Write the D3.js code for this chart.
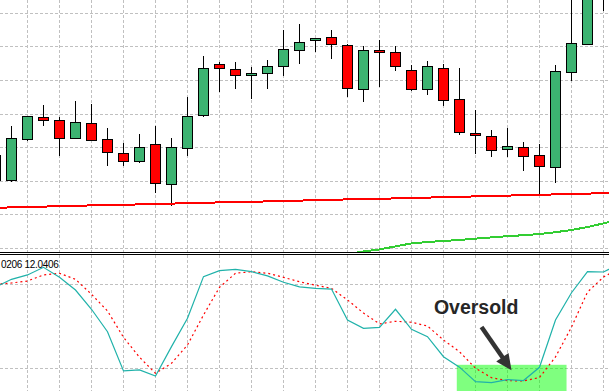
<!DOCTYPE html>
<html>
<head>
<meta charset="utf-8">
<script src="https://d3js.org/d3.v7.min.js"></script>
<style>
  html, body { margin: 0; padding: 0; background: #fff; overflow: hidden; }
</style>
</head>
<body>
<div id="chart"></div>
<script>
// ---- data ----
// bar numbers, -1 is the half hidden bar on the left edge
const bars = [-1, 0, 1, 2, 3, 4, 5, 6, 7, 8, 9, 10, 11, 12, 13, 14, 15, 16, 17, 18, 19,
  20, 21, 22, 23, 24, 25, 26, 27, 28, 29, 30, 31, 32, 33, 34, 35, 36, 37];
const opens = [1.29360, 1.29357, 1.29564, 1.29674, 1.29659, 1.29569, 1.29644, 1.29563, 1.29494, 1.29453,
  1.29539, 1.29339, 1.29519, 1.29684, 1.29939, 1.29914, 1.29884, 1.29894, 1.29929, 1.30009,
  1.30059, 1.30074, 1.30034, 1.29814, 1.30009, 1.29999, 1.29909, 1.29814, 1.29919, 1.29764,
  1.29594, 1.29579, 1.29514, 1.29524, 1.29484, 1.29424, 1.29899, 1.30039, 1.30285];
const highs = [1.29495, 1.29630, 1.29679, 1.29735, 1.29674, 1.29755, 1.29740, 1.29620, 1.29544, 1.29590,
  1.29630, 1.29570, 1.29775, 1.29979, 1.29949, 1.29949, 1.29924, 1.29959, 1.30109, 1.30139,
  1.30069, 1.30109, 1.30039, 1.30029, 1.30059, 1.30029, 1.29934, 1.29954, 1.29939, 1.29919,
  1.29709, 1.29609, 1.29619, 1.29549, 1.29539, 1.29934, 1.30335, 1.30460, 1.30485];
const lows = [1.29345, 1.29352, 1.29557, 1.29630, 1.29480, 1.29569, 1.29559, 1.29432, 1.29432, 1.29444,
  1.29295, 1.29232, 1.29480, 1.29677, 1.29799, 1.29814, 1.29764, 1.29814, 1.29882, 1.29939,
  1.29999, 1.29967, 1.29774, 1.29749, 1.29824, 1.29904, 1.29804, 1.29784, 1.29729, 1.29584,
  1.29489, 1.29474, 1.29474, 1.29404, 1.29284, 1.29344, 1.29854, 1.30039, 1.30207];
const closes = [1.29485, 1.29569, 1.29679, 1.29659, 1.29569, 1.29649, 1.29559, 1.29499, 1.29454, 1.29524,
  1.29344, 1.29524, 1.29679, 1.29919, 1.29919, 1.29884, 1.29894, 1.29929, 1.30014, 1.30049,
  1.30069, 1.30039, 1.29819, 1.30009, 1.29999, 1.29929, 1.29814, 1.29929, 1.29759, 1.29599,
  1.29584, 1.29509, 1.29529, 1.29479, 1.29429, 1.29904, 1.30044, 1.30385, 1.30410];

// slow moving average (red), bars -1..38
const maSlowBars = [-1, 0, 1, 2, 3, 4, 5, 6, 7, 8, 9, 10, 11, 12, 13, 14, 15, 16, 17, 18, 19,
  20, 21, 22, 23, 24, 25, 26, 27, 28, 29, 30, 31, 32, 33, 34, 35, 36, 37, 38];
const maSlow = [1.29221, 1.29223, 1.29225, 1.29227, 1.29229, 1.29231, 1.29233, 1.29234, 1.29236, 1.29238,
  1.29240, 1.29242, 1.29244, 1.29246, 1.29248, 1.29249, 1.29251, 1.29253, 1.29255, 1.29257,
  1.29259, 1.29261, 1.29263, 1.29264, 1.29266, 1.29268, 1.29270, 1.29272, 1.29274, 1.29276,
  1.29278, 1.29280, 1.29282, 1.29284, 1.29286, 1.29288, 1.29290, 1.29292, 1.29294, 1.29296];

// green moving average, only shows up on the right
const maGreenBars = [21, 22, 23, 24, 25, 26, 27, 28, 29, 30, 31, 32, 33, 34, 35, 36, 37, 38];
const maGreen = [1.28990, 1.29003, 1.29013, 1.29028, 1.29043, 1.29050, 1.29055, 1.29060, 1.29067,
  1.29073, 1.29079, 1.29084, 1.29090, 1.29099, 1.29110, 1.29125, 1.29143, 1.29163];

// stochastic, bars -1..38
const stochK = [78.1, 83.5, 86.6, 92.0, 84.9, 75.9, 62.3, 46.4, 18.6, 19.3,
  15.0, 35.8, 55.9, 85.4, 89.6, 90.6, 88.9, 85.9, 81.4, 78.1,
  77.1, 76.6, 54.7, 48.8, 49.5, 62.3, 48.1, 42.9, 28.7, 21.3,
  11.0, 10.3, 12.5, 11.8, 21.2, 54.7, 74.0, 88.9, 88.7, 94.4];
const stochD = [80.0, 80.9, 82.3, 86.6, 87.8, 83.5, 72.9, 61.1, 42.4, 28.3,
  16.9, 24.0, 37.0, 58.2, 77.8, 87.8, 88.9, 87.8, 84.9, 81.8,
  79.3, 77.1, 68.9, 59.6, 51.9, 53.8, 53.1, 50.4, 40.5, 32.2,
  20.5, 13.8, 11.7, 11.5, 14.0, 28.5, 49.7, 74.5, 85.1, 91.5];
const stochLevels = [20, 80];
const stochLabel = "0206 12.0406";

// grid
const gridPrices = [1.29019, 1.29186, 1.29354, 1.29522, 1.29690, 1.29858, 1.30026, 1.30194];
const gridBars = [1, 3, 5, 7, 9, 11, 13, 15, 17, 19, 21, 23, 25, 27, 29, 31, 33, 35, 37];

// "Oversold" note, in bar / stochastic units
const noteText = "Oversold";
const noteTextAt = [26.4, 58.6];
const noteArrowFrom = [29.375, 49.7];
const noteArrowTo = [31.25, 19.05];
const noteBox = [27.83, 34.69, 22.95]; // bar from, bar to, top value

// ---- drawing ----
const W = 609, H = 391;
const priceBottom = 252, stochTop = 255;

const svg = d3.select("#chart").append("svg")
  .attr("width", W).attr("height", H)
  .style("display", "block")
  .style("font-family", "'Liberation Sans', Arial, sans-serif");

const x = d3.scaleLinear().domain([-1, 38]).range([-4.5, 619.5]);
const y = d3.scaleLinear().domain([1.29, 1.3026]).range([priceBottom, 0]);
const ys = d3.scaleLinear().domain([0, 100]).range([397.2, 256.03]);

const defs = svg.append("defs");
defs.append("clipPath").attr("id", "clipTop")
  .append("rect").attr("x", 0).attr("y", 0).attr("width", W).attr("height", priceBottom);
defs.append("clipPath").attr("id", "clipBot")
  .append("rect").attr("x", 0).attr("y", stochTop).attr("width", W).attr("height", H - stochTop);

const gridCol = "#c0c0c0";

// price panel
const pricePanel = svg.append("g").attr("clip-path", "url(#clipTop)");

pricePanel.selectAll(".vgrid").data(gridBars).join("line")
  .attr("x1", d => x(d)).attr("x2", d => x(d))
  .attr("y1", 0).attr("y2", priceBottom)
  .attr("stroke", gridCol).attr("stroke-dasharray", "3,2")
  .attr("shape-rendering", "crispEdges");
pricePanel.selectAll(".hgrid").data(gridPrices).join("line")
  .attr("x1", 0).attr("x2", W)
  .attr("y1", d => y(d)).attr("y2", d => y(d))
  .attr("stroke", gridCol).attr("stroke-dasharray", "3,2")
  .attr("shape-rendering", "crispEdges");

const candles = bars.map((b, i) => ({ b: b, o: opens[i], h: highs[i], l: lows[i], c: closes[i] }));

pricePanel.selectAll(".wick").data(candles).join("line")
  .attr("x1", d => x(d.b)).attr("x2", d => x(d.b))
  .attr("y1", d => y(d.h)).attr("y2", d => y(d.l))
  .attr("stroke", "#000").attr("stroke-width", 1)
  .attr("shape-rendering", "crispEdges");

pricePanel.selectAll(".body").data(candles).join("rect")
  .attr("x", d => x(d.b) - 5)
  .attr("width", 10)
  .attr("y", d => y(Math.max(d.o, d.c)))
  .attr("height", d => Math.max(1, Math.abs(y(d.o) - y(d.c))))
  .attr("fill", d => d.c >= d.o ? "#3cb371" : "#ff0000")
  .attr("stroke", "#000").attr("stroke-width", 1)
  .attr("shape-rendering", "crispEdges");

const priceLine = d3.line().x(d => x(d[0])).y(d => y(d[1]));

pricePanel.append("path")
  .datum(maSlowBars.map((b, i) => [b, maSlow[i]]))
  .attr("d", priceLine)
  .attr("fill", "none").attr("stroke", "#ff0000").attr("stroke-width", 2)
  .attr("shape-rendering", "crispEdges");

pricePanel.append("path")
  .datum(maGreenBars.map((b, i) => [b, maGreen[i]]))
  .attr("d", priceLine)
  .attr("fill", "none").attr("stroke", "#32cd32").attr("stroke-width", 2)
  .attr("shape-rendering", "crispEdges");

// separator between the panels
svg.selectAll(".sep").data([252.5, 254.5]).join("line")
  .attr("x1", 0).attr("x2", W)
  .attr("y1", d => d).attr("y2", d => d)
  .attr("stroke", "#000").attr("stroke-width", 1);

// stochastic panel
const stochPanel = svg.append("g").attr("clip-path", "url(#clipBot)");

stochPanel.selectAll(".vgrid").data(gridBars).join("line")
  .attr("x1", d => x(d)).attr("x2", d => x(d))
  .attr("y1", stochTop).attr("y2", H)
  .attr("stroke", gridCol).attr("stroke-dasharray", "3,2")
  .attr("shape-rendering", "crispEdges");
stochPanel.selectAll(".hgrid").data(stochLevels).join("line")
  .attr("x1", 0).attr("x2", W)
  .attr("y1", d => ys(d)).attr("y2", d => ys(d))
  .attr("stroke", gridCol).attr("stroke-dasharray", "3,2")
  .attr("shape-rendering", "crispEdges");

// highlight box
stochPanel.append("rect")
  .attr("x", x(noteBox[0]))
  .attr("width", x(noteBox[1]) - x(noteBox[0]))
  .attr("y", ys(noteBox[2]))
  .attr("height", ys(0) - ys(noteBox[2]))
  .attr("fill", "#00ff00").attr("fill-opacity", 0.5);

const stochLine = d3.line().x(d => x(d[0])).y(d => ys(d[1]));

stochPanel.append("path")
  .datum(maSlowBars.map((b, i) => [b, stochD[i]]))
  .attr("d", stochLine)
  .attr("fill", "none").attr("stroke", "#ff0000").attr("stroke-width", 1.2)
  .attr("stroke-dasharray", "2,3");

stochPanel.append("path")
  .datum(maSlowBars.map((b, i) => [b, stochK[i]]))
  .attr("d", stochLine)
  .attr("fill", "none").attr("stroke", "#20b2aa").attr("stroke-width", 1.2);

// indicator values, top left of the lower panel
stochPanel.append("text")
  .attr("x", 1).attr("y", 268)
  .attr("font-size", 10)
  .attr("letter-spacing", "-0.3px")
  .attr("fill", "#000")
  .text(stochLabel);

// annotation
stochPanel.append("text")
  .attr("x", x(noteTextAt[0])).attr("y", ys(noteTextAt[1]))
  .attr("font-size", 19.5).attr("font-weight", "bold")
  .attr("fill", "#262626")
  .text(noteText);

const p0 = [x(noteArrowFrom[0]), ys(noteArrowFrom[1])];
const p1 = [x(noteArrowTo[0]), ys(noteArrowTo[1])];
const len = Math.hypot(p1[0] - p0[0], p1[1] - p0[1]);
const ux = (p1[0] - p0[0]) / len, uy = (p1[1] - p0[1]) / len;
const headLen = 16, headHalf = 7.5;
const base = [p1[0] - ux * headLen, p1[1] - uy * headLen];

stochPanel.append("line")
  .attr("x1", p0[0]).attr("y1", p0[1])
  .attr("x2", base[0] + ux * 2).attr("y2", base[1] + uy * 2)
  .attr("stroke", "#333").attr("stroke-width", 4.5);
stochPanel.append("polygon")
  .attr("points", [
    p1,
    [base[0] + uy * headHalf, base[1] - ux * headHalf],
    [base[0] - uy * headHalf, base[1] + ux * headHalf]
  ].map(p => p.join(",")).join(" "))
  .attr("fill", "#333");
</script>
</body>
</html>
